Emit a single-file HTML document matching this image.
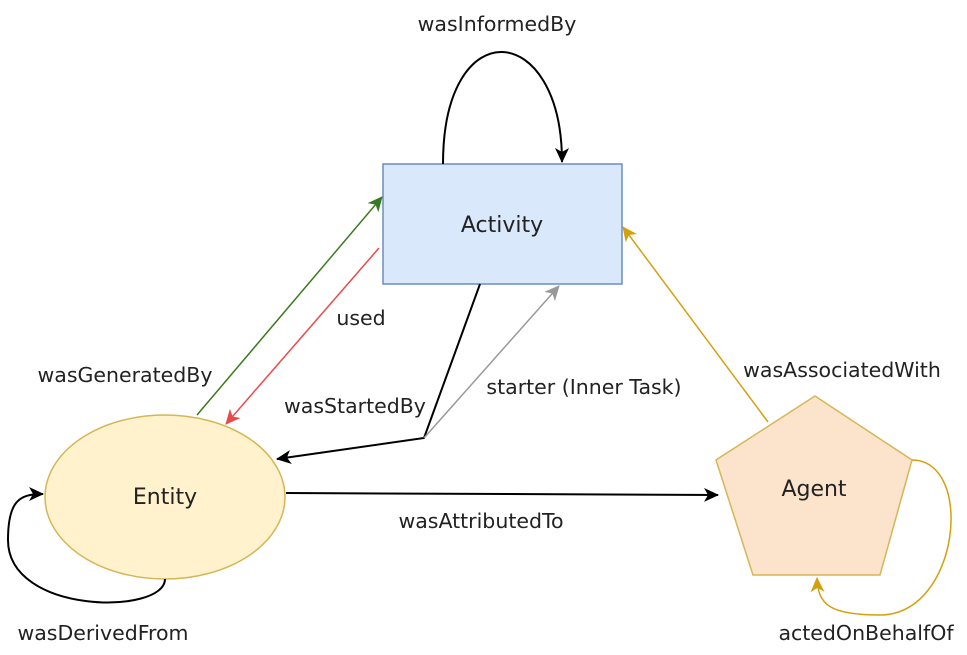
<!DOCTYPE html>
<html><head><meta charset="utf-8"><style>
html,body{margin:0;padding:0;background:#fff;}
svg text{font-family:"DejaVu Sans","Liberation Sans",sans-serif;fill:#222;}
</style></head><body>
<svg width="967" height="650" viewBox="0 0 967 650" xmlns="http://www.w3.org/2000/svg">
<defs>
<marker id="ab" markerWidth="16" markerHeight="14" refX="14" refY="7" orient="auto" markerUnits="userSpaceOnUse"><path d="M0,0 L15,7 L0,14 L4,7z" fill="#000"/></marker>
<marker id="ag" markerWidth="16" markerHeight="14" refX="14" refY="7" orient="auto" markerUnits="userSpaceOnUse"><path d="M0,0 L15,7 L0,14 L4,7z" fill="#3a7a1e"/></marker>
<marker id="ar" markerWidth="16" markerHeight="14" refX="14" refY="7" orient="auto" markerUnits="userSpaceOnUse"><path d="M0,0 L15,7 L0,14 L4,7z" fill="#e84a4a"/></marker>
<marker id="agr" markerWidth="16" markerHeight="14" refX="14" refY="7" orient="auto" markerUnits="userSpaceOnUse"><path d="M0,0 L15,7 L0,14 L4,7z" fill="#999"/></marker>
<marker id="ay" markerWidth="16" markerHeight="14" refX="14" refY="7" orient="auto" markerUnits="userSpaceOnUse"><path d="M0,0 L15,7 L0,14 L4,7z" fill="#d4a010"/></marker>
</defs>
<rect x="383" y="164" width="239" height="120" fill="#dae8fc" stroke="#6c8ebf" stroke-width="1.5"/>
<text x="502" y="232" font-size="22" text-anchor="middle">Activity</text>
<ellipse cx="165" cy="497" rx="120" ry="82" fill="#fff2cc" stroke="#d6b656" stroke-width="1.5"/>
<text x="165" y="504" font-size="22" text-anchor="middle">Entity</text>
<polygon points="815,396 912,460 880,575 753,575 716,460" fill="#fbe3cc" stroke="#d6b656" stroke-width="1.5"/>
<text x="814" y="496" font-size="22" text-anchor="middle">Agent</text>
<path d="M443,164 C443,10 562,20 562,162" fill="none" stroke="#000" stroke-width="2" marker-end="url(#ab)"/>
<text x="497" y="31" font-size="20.5" text-anchor="middle">wasInformedBy</text>
<line x1="197" y1="415" x2="382" y2="197" stroke="#3a7a1e" stroke-width="1.5" marker-end="url(#ag)"/>
<text x="125" y="382" font-size="20.5" text-anchor="middle">wasGeneratedBy</text>
<line x1="379" y1="248" x2="226" y2="424" stroke="#e84a4a" stroke-width="1.5" marker-end="url(#ar)"/>
<text x="361" y="325" font-size="20.5" text-anchor="middle">used</text>
<polyline points="480,284 424,438 277,459" fill="none" stroke="#000" stroke-width="2" marker-end="url(#ab)"/>
<text x="355" y="413" font-size="20.5" text-anchor="middle">wasStartedBy</text>
<line x1="424" y1="438" x2="559" y2="286" stroke="#999" stroke-width="1.5" marker-end="url(#agr)"/>
<text x="584" y="394" font-size="20.5" text-anchor="middle">starter (Inner Task)</text>
<line x1="768" y1="422" x2="623" y2="227" stroke="#d4a010" stroke-width="1.5" marker-end="url(#ay)"/>
<text x="842" y="377" font-size="20.5" text-anchor="middle">wasAssociatedWith</text>
<line x1="286" y1="493" x2="718" y2="495" stroke="#000" stroke-width="2" marker-end="url(#ab)"/>
<text x="481" y="528" font-size="20.5" text-anchor="middle">wasAttributedTo</text>
<path d="M165,579 C165,615 8,615 8,540 C8,500 20,494 43,494" fill="none" stroke="#000" stroke-width="2" marker-end="url(#ab)"/>
<text x="103" y="640" font-size="20.5" text-anchor="middle">wasDerivedFrom</text>
<path d="M912,460 C975,460 960,615 880,615 C830,615 818,605 817,578" fill="none" stroke="#d4a010" stroke-width="1.5" marker-end="url(#ay)"/>
<text x="866" y="640" font-size="20.5" text-anchor="middle">actedOnBehalfOf</text>
</svg>
</body></html>
